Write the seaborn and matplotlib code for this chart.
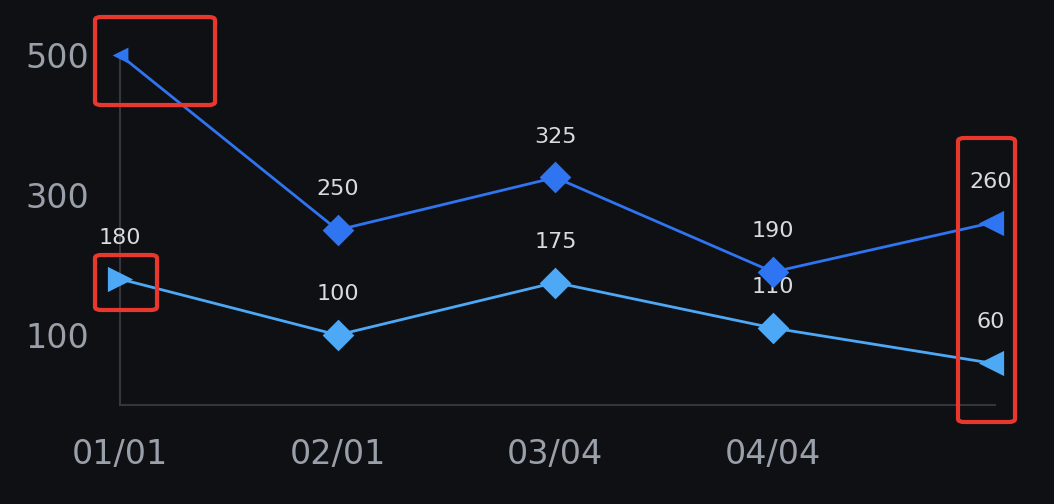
import matplotlib
matplotlib.use("Agg")
import matplotlib.pyplot as plt
import seaborn as sns
import pandas as pd
from matplotlib.patches import FancyBboxPatch

x_labels = ["01/01", "02/01", "03/04", "04/04"]
series_a = [500, 250, 325, 190, 260]
series_b = [180, 100, 175, 110, 60]
markers_a = ["<", "D", "D", "D", "<"]
markers_b = [">", "D", "D", "D", "<"]
show_a = [False, True, True, True, True]
y_ticks = [100, 300, 500]

bg = "#0f1014"
c_a = "#2f74f0"
c_b = "#4da8f5"
sns.set_theme(style="dark")
plt.rcParams['font.family'] = ['DejaVu Sans']
fig = plt.figure(figsize=(10.54, 5.04), dpi=100, facecolor=bg)
ax = fig.add_axes([120/1054, 99/504, 875/1054, 350/504])
ax.set_facecolor(bg)
idx = list(range(len(series_a)))
df = pd.DataFrame({"x": idx * 2, "y": series_a + series_b, "s": ["a"] * 5 + ["b"] * 5})
sns.lineplot(data=df, x="x", y="y", hue="s", palette={"a": c_a, "b": c_b}, lw=2, legend=False, ax=ax, clip_on=False)
for vals, mks, col, show in [(series_a, markers_a, c_a, show_a), (series_b, markers_b, c_b, [True]*5)]:
    for i, (v, m, s) in enumerate(zip(vals, mks, show)):
        size = 130 if i == 0 and col == c_a else 330
        if m == "D":
            size = 260
        ax.scatter([i], [v], marker=m, s=size, color=col, zorder=5, clip_on=False, linewidths=0)
        if s:
            ax.annotate(str(v), (i, v), xytext=(0, 22), textcoords="offset points",
                        ha="center", va="bottom", color="#d8dbe0", fontsize=16)
ax.set_xlim(0, 4.02)
ax.set_ylim(0, 500)
ax.set_xticks(range(len(x_labels)))
ax.set_xticklabels(x_labels)
ax.set_yticks(y_ticks)
ax.tick_params(colors="#9aa0aa", labelsize=24, length=0, pad=22)
ax.tick_params(axis="x", pad=24)
ax.set_xlabel(""); ax.set_ylabel("")
ax.grid(False)
for sp in ["top", "right"]:
    ax.spines[sp].set_visible(False)
for sp in ["left", "bottom"]:
    ax.spines[sp].set_color("#33363c")
    ax.spines[sp].set_linewidth(1.5)
for (x0, y0, x1, y1) in [(95, 17, 215, 105), (95, 255, 157, 310), (958, 138, 1015, 422)]:
    fig.patches.append(FancyBboxPatch((x0/1054, 1 - y1/504), (x1-x0)/1054, (y1-y0)/504,
                       boxstyle="round,pad=0,rounding_size=0.006", transform=fig.transFigure,
                       fill=False, edgecolor="#e8372c", lw=3))
fig.savefig("out.png", dpi=100, facecolor=bg)
